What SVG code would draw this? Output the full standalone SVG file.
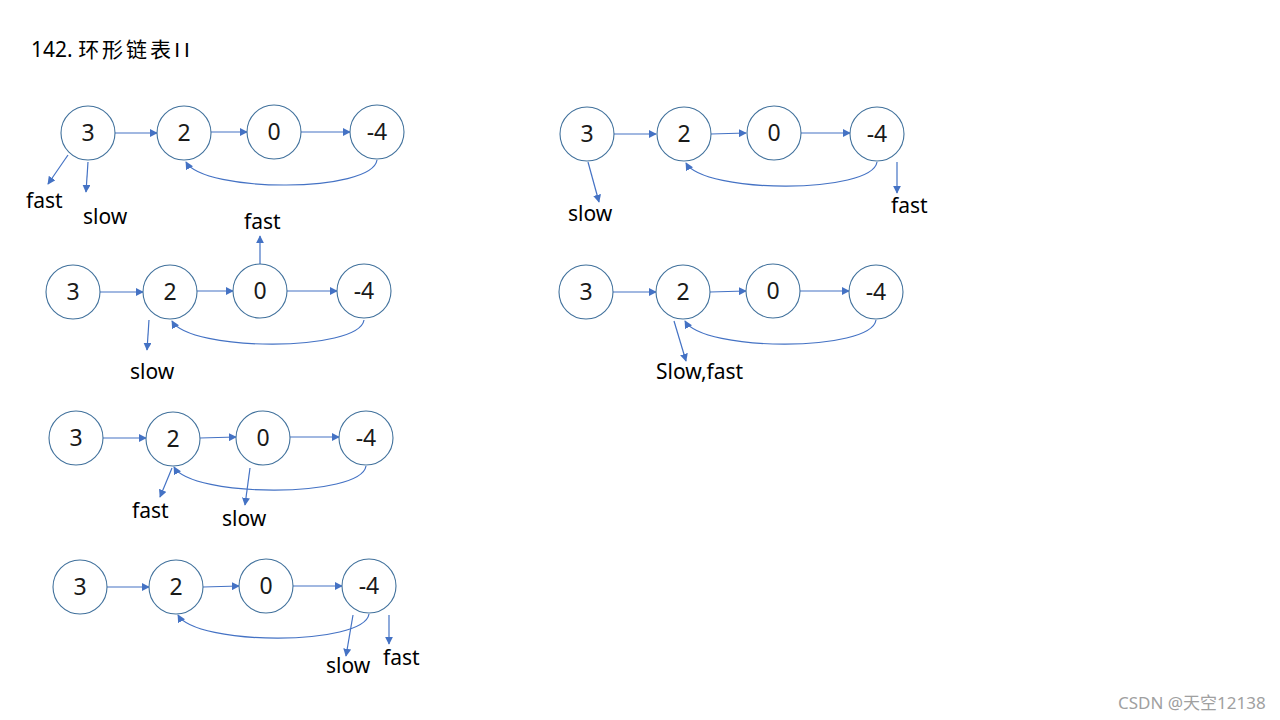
<svg xmlns="http://www.w3.org/2000/svg" width="1280" height="720" viewBox="0 0 1280 720">
<defs>
<marker id="ah" viewBox="0 0 10 10" refX="9" refY="5" markerWidth="8" markerHeight="8" markerUnits="userSpaceOnUse" orient="auto">
<path d="M0,0 L10,5 L0,10 z" fill="#4472C4"/>
</marker>
<style>
.n circle{fill:#fff;stroke:#41719C;stroke-width:1.1}
.n text{font-family:"Noto Sans","Liberation Sans",sans-serif;font-size:23px;fill:#1a1a1a;text-anchor:middle}
.c path,.c line{fill:none;stroke:#4472C4;stroke-width:1.2;marker-end:url(#ah)}
.lbl{font-family:"Noto Sans","Liberation Sans",sans-serif;font-size:21px;fill:#000}
</style>
</defs>
<rect width="1280" height="720" fill="#fff"/>
<text x="31" y="57" font-family="'Noto Sans', 'Noto Sans CJK SC', sans-serif" font-size="21" fill="#000">142. <tspan letter-spacing="3">环形链表</tspan><tspan font-family="'Liberation Sans', sans-serif" letter-spacing="4">II</tspan></text>

<g id="connectors" class="c">
<!-- L1 -->
<line x1="115" y1="133" x2="157" y2="133"/>
<line x1="211" y1="132" x2="247" y2="132"/>
<line x1="301" y1="132" x2="350" y2="132"/>
<path d="M377,160 C372,193 204,193 186,162"/>
<line x1="68" y1="155" x2="48" y2="184"/>
<line x1="88" y1="162" x2="86" y2="192"/>
<!-- L2 -->
<line x1="100" y1="292" x2="143" y2="292"/>
<line x1="197" y1="291" x2="233" y2="291"/>
<line x1="287" y1="291" x2="337" y2="291"/>
<path d="M364,320 C359,352 190,352 172,321"/>
<line x1="260" y1="265" x2="260" y2="236"/>
<line x1="149" y1="320" x2="147" y2="350"/>
<!-- L3 -->
<line x1="103" y1="438" x2="146" y2="438"/>
<line x1="200" y1="438" x2="236" y2="437"/>
<line x1="290" y1="437" x2="339" y2="437"/>
<path d="M366,466 C361,498 192,498 174,467"/>
<line x1="172" y1="468" x2="160" y2="497"/>
<line x1="250" y1="468" x2="245" y2="505"/>
<!-- L4 -->
<line x1="107" y1="587" x2="149" y2="587"/>
<line x1="203" y1="587" x2="239" y2="586"/>
<line x1="293" y1="586" x2="342" y2="586"/>
<path d="M369,614 C364,646 196,646 178,615"/>
<line x1="353" y1="615" x2="346" y2="656"/>
<line x1="389" y1="615" x2="389" y2="644"/>
<!-- R1 -->
<line x1="614" y1="134" x2="656" y2="134"/>
<line x1="711" y1="134" x2="746" y2="133"/>
<line x1="801" y1="133" x2="850" y2="133"/>
<path d="M877,162 C872,194 704,194 686,163"/>
<line x1="588" y1="162" x2="599" y2="202"/>
<line x1="897" y1="162" x2="897" y2="193"/>
<!-- R2 -->
<line x1="613" y1="292" x2="656" y2="292"/>
<line x1="710" y1="292" x2="746" y2="291"/>
<line x1="800" y1="291" x2="849" y2="291"/>
<path d="M876,320 C871,352 703,352 685,321"/>
<line x1="674" y1="321" x2="686" y2="361"/>
</g>

<g id="row1-left">
<g id="L1n3" class="n"><circle cx="88" cy="133" r="27"/><text x="88" y="141">3</text></g>
<g id="L1n2" class="n"><circle cx="184" cy="133" r="27"/><text x="184" y="141">2</text></g>
<g id="L1n0" class="n"><circle cx="274" cy="132" r="27"/><text x="274" y="140">0</text></g>
<g id="L1n4" class="n"><circle cx="377" cy="132" r="27"/><text x="377" y="140">-4</text></g>
</g>
<g id="row2-left">
<g id="L2n3" class="n"><circle cx="73" cy="292" r="27"/><text x="73" y="300">3</text></g>
<g id="L2n2" class="n"><circle cx="170" cy="292" r="27"/><text x="170" y="300">2</text></g>
<g id="L2n0" class="n"><circle cx="260" cy="291" r="27"/><text x="260" y="299">0</text></g>
<g id="L2n4" class="n"><circle cx="364" cy="291" r="27"/><text x="364" y="299">-4</text></g>
</g>
<g id="row3-left">
<g id="L3n3" class="n"><circle cx="76" cy="438" r="27"/><text x="76" y="446">3</text></g>
<g id="L3n2" class="n"><circle cx="173" cy="439" r="27"/><text x="173" y="447">2</text></g>
<g id="L3n0" class="n"><circle cx="263" cy="438" r="27"/><text x="263" y="446">0</text></g>
<g id="L3n4" class="n"><circle cx="366" cy="438" r="27"/><text x="366" y="446">-4</text></g>
</g>
<g id="row4-left">
<g id="L4n3" class="n"><circle cx="80" cy="587" r="27"/><text x="80" y="595">3</text></g>
<g id="L4n2" class="n"><circle cx="176" cy="587" r="27"/><text x="176" y="595">2</text></g>
<g id="L4n0" class="n"><circle cx="266" cy="586" r="27"/><text x="266" y="594">0</text></g>
<g id="L4n4" class="n"><circle cx="369" cy="586" r="27"/><text x="369" y="594">-4</text></g>
</g>
<g id="row1-right">
<g id="R1n3" class="n"><circle cx="587" cy="134" r="27"/><text x="587" y="142">3</text></g>
<g id="R1n2" class="n"><circle cx="684" cy="134" r="27"/><text x="684" y="142">2</text></g>
<g id="R1n0" class="n"><circle cx="774" cy="133" r="27"/><text x="774" y="141">0</text></g>
<g id="R1n4" class="n"><circle cx="877" cy="134" r="27"/><text x="877" y="142">-4</text></g>
</g>
<g id="row2-right">
<g id="R2n3" class="n"><circle cx="586" cy="292" r="27"/><text x="586" y="300">3</text></g>
<g id="R2n2" class="n"><circle cx="683" cy="292" r="27"/><text x="683" y="300">2</text></g>
<g id="R2n0" class="n"><circle cx="773" cy="291" r="27"/><text x="773" y="299">0</text></g>
<g id="R2n4" class="n"><circle cx="876" cy="292" r="27"/><text x="876" y="300">-4</text></g>
</g>

<g id="labels" class="lbl">
<text x="26" y="208">fast</text>
<text x="83" y="224">slow</text>
<text x="244" y="229">fast</text>
<text x="130" y="379">slow</text>
<text x="132" y="518">fast</text>
<text x="222" y="526">slow</text>
<text x="326" y="673">slow</text>
<text x="383" y="665">fast</text>
<text x="568" y="221">slow</text>
<text x="891" y="213">fast</text>
<text x="656" y="379">Slow,fast</text>
</g>
<text x="1118" y="709" font-family="'Noto Sans', 'Noto Sans CJK SC', sans-serif" font-size="17" fill="#A0A0A0">CSDN @天空12138</text>
</svg>
